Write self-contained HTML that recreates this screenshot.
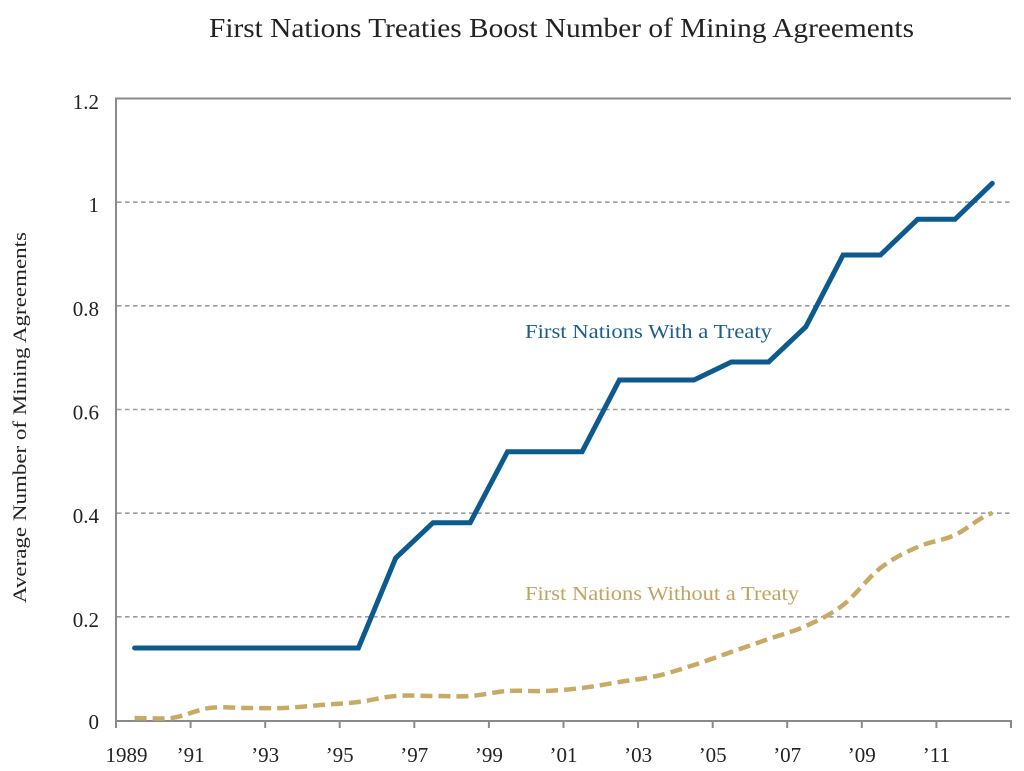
<!DOCTYPE html>
<html>
<head>
<meta charset="utf-8">
<style>
  html,body{margin:0;padding:0;background:#fff;}
  svg{display:block;}
  text{font-family:"Liberation Serif",serif;}
</style>
</head>
<body>
<svg width="1024" height="771" viewBox="0 0 1024 771" xmlns="http://www.w3.org/2000/svg">
  <rect width="1024" height="771" fill="#fff"/>
  <!-- Title -->
  <text x="209" y="37" font-size="27" fill="#222" textLength="705" lengthAdjust="spacingAndGlyphs">First Nations Treaties Boost Number of Mining Agreements</text>

  <!-- gridlines -->
  <g stroke="#9c9c9c" stroke-width="1.6" stroke-dasharray="4.5,3.5" fill="none">
    <line x1="117" y1="202.2" x2="1011" y2="202.2"/>
    <line x1="117" y1="305.8" x2="1011" y2="305.8"/>
    <line x1="117" y1="409.5" x2="1011" y2="409.5"/>
    <line x1="117" y1="513.2" x2="1011" y2="513.2"/>
    <line x1="117" y1="616.8" x2="1011" y2="616.8"/>
  </g>

  <!-- frame / axes -->
  <g stroke="#8a8a8a" stroke-width="2" fill="none">
    <line x1="116" y1="98.5" x2="1011" y2="98.5"/>
    <line x1="116" y1="97.5" x2="116" y2="721"/>
    <line x1="115" y1="721" x2="1012" y2="721"/>
  </g>
  <g stroke="#8a8a8a" stroke-width="2">
    <line x1="116" y1="721" x2="116" y2="728"/>
    <line x1="190.6" y1="721" x2="190.6" y2="728"/>
    <line x1="265.2" y1="721" x2="265.2" y2="728"/>
    <line x1="339.7" y1="721" x2="339.7" y2="728"/>
    <line x1="414.3" y1="721" x2="414.3" y2="728"/>
    <line x1="488.9" y1="721" x2="488.9" y2="728"/>
    <line x1="563.5" y1="721" x2="563.5" y2="728"/>
    <line x1="638.1" y1="721" x2="638.1" y2="728"/>
    <line x1="712.7" y1="721" x2="712.7" y2="728"/>
    <line x1="787.2" y1="721" x2="787.2" y2="728"/>
    <line x1="861.8" y1="721" x2="861.8" y2="728"/>
    <line x1="936.4" y1="721" x2="936.4" y2="728"/>
    <line x1="1011" y1="721" x2="1011" y2="728"/>
  </g>

  <!-- y tick labels -->
  <g font-size="21" fill="#222" text-anchor="end">
    <text x="99" y="109">1.2</text>
    <text x="99" y="212">1</text>
    <text x="99" y="316">0.8</text>
    <text x="99" y="419.5">0.6</text>
    <text x="99" y="523">0.4</text>
    <text x="99" y="627">0.2</text>
    <text x="99" y="729">0</text>
  </g>

  <!-- x tick labels -->
  <g font-size="21" fill="#222" text-anchor="middle">
    <text x="126.5" y="762">1989</text>
    <text x="190.6" y="762">’91</text>
    <text x="265.2" y="762">’93</text>
    <text x="339.7" y="762">’95</text>
    <text x="414.3" y="762">’97</text>
    <text x="488.9" y="762">’99</text>
    <text x="563.5" y="762">’01</text>
    <text x="638.1" y="762">’03</text>
    <text x="712.7" y="762">’05</text>
    <text x="787.2" y="762">’07</text>
    <text x="861.8" y="762">’09</text>
    <text x="936.4" y="762">’11</text>
  </g>

  <!-- y axis label -->
  <text transform="translate(26,417.5) rotate(-90)" font-size="19" fill="#222" text-anchor="middle" textLength="371" lengthAdjust="spacingAndGlyphs">Average Number of Mining Agreements</text>

  <!-- gold dashed series -->
  <path d="M134.6,718
    C147.0,718 159.5,719.2 171.9,718
    C184.3,716.3 196.8,709.7 209.2,708
    C221.6,706.3 234.1,708 246.5,708
    C258.9,708 271.4,708.5 283.8,708
    C296.2,707.5 308.7,706 321.1,705
    C333.5,704 346.0,703.5 358.4,702
    C370.8,700.5 383.3,697 395.7,696
    C408.1,695 420.6,696 433.0,696
    C445.4,696 457.8,696.8 470.2,696
    C482.6,695.2 495.1,691.8 507.5,691
    C519.9,690.2 532.4,691.5 544.8,691
    C557.2,690.5 569.7,689.5 582.1,688
    C594.5,686.5 607.0,684 619.4,682
    C631.8,680 644.3,678.8 656.7,676
    C669.1,673.2 681.6,669 694.0,665
    C706.4,661 718.9,656.3 731.3,652
    C743.7,647.7 756.2,643.3 768.6,639
    C781.0,634.7 793.5,631.7 805.9,626
    C818.3,620.3 830.7,614.7 843.1,605
    C855.5,595.3 868.0,577.7 880.4,568
    C892.8,558.3 905.3,552.5 917.7,547
    C930.1,541.5 942.6,540.7 955.0,535
    C967.4,529.3 979.9,516.7 992.3,513"
    fill="none" stroke="#c8aa64" stroke-width="4.5" stroke-dasharray="12,6"/>

  <!-- blue series -->
  <polyline points="134.6,648 358.4,648 395.7,558 433.0,522.7 470.2,522.7 507.5,451.7 582.1,451.7 619.4,380 694.0,380 731.3,362 768.6,362 805.9,326.7 843.1,255 880.4,255 917.7,219.3 955.0,219.3 992.3,183.3"
    fill="none" stroke="#0d5a8e" stroke-width="5" stroke-linejoin="miter" stroke-linecap="round"/>

  <!-- series labels -->
  <text x="525" y="338" font-size="20" fill="#1c5d8c" textLength="247" lengthAdjust="spacingAndGlyphs">First Nations With a Treaty</text>
  <text x="525" y="600" font-size="20" fill="#c2a35e" textLength="274" lengthAdjust="spacingAndGlyphs">First Nations Without a Treaty</text>
</svg>
</body>
</html>
